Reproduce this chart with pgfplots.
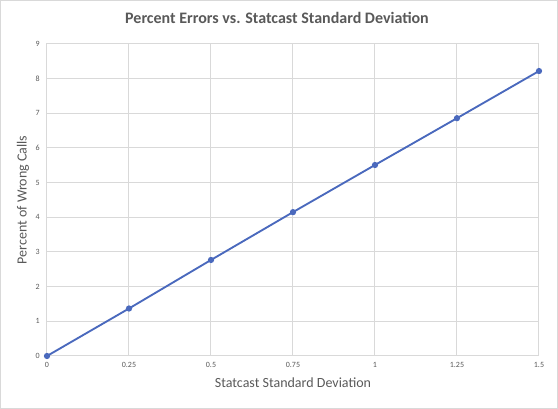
\documentclass[border=0pt]{standalone}
\usepackage{pgfplots}
\pgfplotsset{compat=1.18}
\usepackage{fontspec}
\setmainfont{Carlito}
\definecolor{txt}{HTML}{595959}
\definecolor{gridc}{HTML}{D9D9D9}
\definecolor{line}{HTML}{4A69BD}
\begin{document}
\begin{tikzpicture}
\useasboundingbox (0pt,0pt) rectangle (418.5pt,306.75pt);
\draw[gridc, line width=0.75pt] (0.4pt,0.4pt) rectangle (418.1pt,306.35pt);
\node[text=txt, font=\fontsize{12}{14}\selectfont\bfseries] at (207.75pt,293pt) {Percent Errors vs. Statcast Standard Deviation};
\begin{axis}[
    at={(35.25pt,39.75pt)}, anchor=south west,
    scale only axis, width=369pt, height=234pt,
    xmin=0, xmax=1.5, ymin=0, ymax=9,
    xtick={0,0.25,0.5,0.75,1,1.25,1.5},
    xticklabels={0,0.25,0.5,0.75,1,1.25,1.5},
    ytick={0,1,...,9},
    grid=major,
    major grid style={gridc, line width=0.75pt},
    axis line style={gridc, line width=0.75pt},
    major tick length=0pt,
    tick label style={text=txt, font=\fontsize{6}{7}\selectfont},
    /pgf/number format/assume math mode=true,
    xtick pos=bottom, ytick pos=left,
    xticklabel style={yshift=-1pt},
    yticklabel style={xshift=-2pt},
    xlabel={Statcast Standard Deviation},
    ylabel={Percent of Wrong Calls},
    label style={text=txt, font=\fontsize{10.5}{12}\selectfont},
    xlabel style={yshift=-1pt},
    ylabel style={yshift=-2pt},
    clip=false,
]
\addplot[line, line width=1.4pt, mark=*, mark size=1.6pt, mark options={fill=line, draw=line}]
coordinates {
(0,0) (0.25,1.37) (0.5,2.77) (0.75,4.15) (1,5.51) (1.25,6.86) (1.5,8.22)
};
\end{axis}
\end{tikzpicture}
\end{document}
